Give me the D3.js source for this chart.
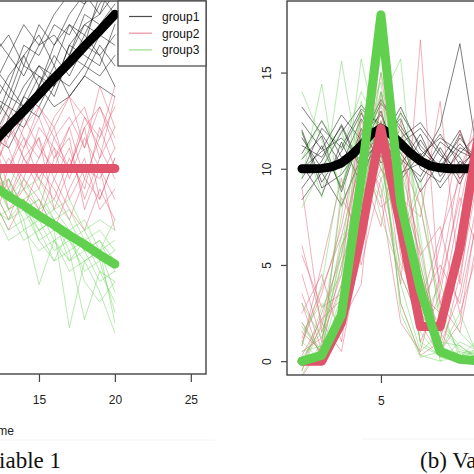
<!DOCTYPE html>
<html>
<head>
<meta charset="utf-8">
<script src="https://cdn.jsdelivr.net/npm/d3@7/dist/d3.min.js"></script>
<style>
  body { margin: 0; background: #fff; }
  svg { display: block; }
</style>
</head>
<body>
<svg id="chart"></svg>
<script>
var groups = ["group1", "group2", "group3"];
var groupColors = ["#000000", "#DF536B", "#61D04F"];
var thinAlpha = [0.5, 0.45, 0.45];

/* panel (a): only the right end of the time range is in view */
var timeA = [11, 12, 13, 14, 15, 16, 17, 18, 19, 20];
var meanA1 = [21.0, 22.5, 24.1, 25.6, 27.2, 28.8, 30.3, 31.9, 33.4, 35.0];
var meanA2 = [20, 20, 20, 20, 20, 20, 20, 20, 20, 20];
var meanA3 = [19.2, 18.3, 17.3, 16.4, 15.4, 14.5, 13.5, 12.6, 11.6, 10.7];

var linesA1 = [
  [24, 26, 29, 31, 28, 32, 34, 33, 36, 38],
  [22, 25, 23, 27, 30, 29, 31, 34, 35, 37],
  [26, 28, 31, 29, 32, 33, 31, 35, 34, 36],
  [21, 23, 26, 25, 28, 31, 29, 32, 31, 33],
  [25, 27, 26, 30, 29, 27, 31, 30, 33, 32],
  [23, 22, 24, 27, 26, 29, 28, 30, 29, 31],
  [27, 30, 28, 32, 31, 34, 33, 36, 38, 37],
  [20, 24, 27, 26, 29, 28, 32, 31, 30, 34],
  [28, 31, 33, 30, 34, 32, 35, 37, 35, 39],
  [22, 21, 25, 24, 27, 30, 27, 29, 32, 30],
  [24, 29, 27, 31, 33, 30, 34, 32, 37, 35],
  [26, 24, 28, 26, 25, 28, 30, 33, 31, 28],
  [30, 33, 31, 34, 32, 35, 37, 36, 39, 38],
  [21, 23, 22, 25, 28, 26, 27, 29, 28, 27],
  [24, 27, 25, 28, 30, 28, 32, 34, 33, 35]
];
var linesA2 = [
  [20, 23, 18, 22, 25, 21, 24, 19, 23, 26],
  [17, 15, 19, 16, 20, 18, 15, 19, 17, 21],
  [22, 19, 24, 21, 18, 23, 20, 25, 22, 19],
  [19, 21, 17, 20, 23, 19, 22, 17, 21, 24],
  [24, 22, 26, 23, 21, 25, 27, 22, 26, 23],
  [16, 18, 15, 19, 17, 14, 18, 21, 16, 18],
  [21, 25, 22, 18, 21, 24, 19, 23, 20, 17],
  [18, 16, 20, 23, 19, 17, 21, 18, 24, 20],
  [23, 20, 23, 25, 22, 20, 24, 26, 21, 27],
  [15, 17, 14, 17, 15, 19, 16, 14, 18, 15],
  [20, 18, 21, 19, 24, 22, 17, 20, 19, 22],
  [25, 23, 20, 24, 26, 23, 25, 22, 28, 24],
  [19, 22, 16, 18, 16, 21, 23, 16, 20, 14],
  [22, 20, 25, 21, 23, 16, 20, 24, 17, 21],
  [23, 21, 24, 22, 26, 24, 27, 25, 23, 28],
  [18, 20, 17, 21, 19, 22, 20, 24, 26, 22]
];
var linesA3 = [
  [19, 17, 18, 15, 16, 13, 14, 12, 13, 11],
  [17, 19, 16, 17, 14, 15, 12, 13, 10, 9],
  [21, 18, 19, 16, 17, 15, 16, 13, 14, 12],
  [18, 16, 15, 17, 13, 14, 4.5, 11, 12, 8],
  [20, 21, 17, 18, 15, 16, 14, 15, 12, 13],
  [16, 17, 14, 15, 8.7, 13, 11, 12, 9, 10],
  [22, 19, 20, 18, 19, 16, 17, 14, 15, 14],
  [17, 15, 16, 13, 14, 11, 12, 5.3, 10, 7],
  [19, 20, 18, 16, 17, 14, 13, 14, 11, 12],
  [15, 16, 13, 14, 12, 13, 10, 11, 8, 4],
  [20, 18, 17, 19, 16, 17, 15, 12, 13, 10],
  [18, 17, 19, 14, 15, 12, 13, 10, 11, 6],
  [21, 20, 16, 17, 18, 15, 11, 13, 12, 15],
  [16, 18, 15, 16, 13, 11, 14, 9, 7, 9],
  [19, 17, 18, 16, 14, 15, 13, 11, 12, 5]
];

/* panel (b): only the left end of the time range is in view */
var timeB = [1, 2, 3, 4, 5, 6, 7, 8, 9, 10];
var timeBfine = [1, 1.5, 2, 2.5, 3, 3.5, 4, 4.5, 5, 5.5, 6, 6.5, 7, 7.5, 8, 8.5, 9, 9.5, 10];
var meanB1 = [10, 10, 10.02, 10.1, 10.3, 10.7, 11.2, 11.8, 12.1, 11.8, 11.3, 10.8, 10.4, 10.15, 10.05, 10, 10, 10, 10];
var meanB2 = [0, 0, 2.0, 6.6, 12.1, 7.0, 1.8, 1.8, 5.9, 12.0];
var meanB3 = [0, 0.3, 2.4, 9.5, 18.0, 8.2, 3.7, 0.5, 0.1, 0];

var linesB1 = [
  [12.4, 11.0, 12.8, 11.5, 13.6, 12.0, 10.5, 11.8, 10.2, 11.0],
  [8.4, 9.8, 8.1, 10.6, 11.2, 9.4, 10.8, 9.0, 10.4, 9.6],
  [13.2, 11.8, 10.2, 12.6, 11.0, 12.9, 11.2, 10.1, 11.6, 10.3],
  [10.2, 8.6, 11.4, 9.2, 12.4, 10.8, 9.3, 11.1, 9.5, 10.7],
  [9.5, 11.2, 9.0, 12.1, 10.3, 11.5, 8.8, 10.4, 12.0, 9.2],
  [11.6, 10.0, 11.9, 13.3, 12.1, 10.2, 11.8, 9.6, 10.8, 11.9],
  [10.8, 12.5, 10.6, 11.0, 13.0, 9.8, 10.3, 12.2, 16.5, 10.0],
  [9.0, 10.4, 12.3, 10.1, 11.7, 12.6, 10.0, 9.3, 11.1, 10.5],
  [12.0, 9.3, 10.9, 12.9, 10.6, 11.3, 12.1, 10.7, 9.9, 11.4],
  [10.5, 11.7, 8.8, 11.8, 12.8, 10.5, 9.6, 11.4, 10.6, 8.9],
  [11.2, 10.6, 12.2, 9.9, 11.4, 13.2, 11.0, 10.0, 11.3, 10.2],
  [9.8, 12.1, 11.1, 13.1, 12.3, 11.6, 12.4, 10.9, 9.2, 11.5],
  [11.9, 9.0, 9.7, 11.2, 13.4, 12.2, 10.7, 11.6, 10.9, 10.4],
  [10.0, 10.9, 11.6, 10.4, 12.0, 9.6, 11.5, 9.9, 11.8, 9.8]
];
var linesB2 = [
  [0.5, 1.2, 4.0, 9.5, 13.0, 8.0, 2.5, 1.0, 6.5, 11.0],
  [2.0, 0.3, 3.0, 7.0, 10.5, 11.5, 5.0, 0.8, 3.5, 9.0],
  [-0.5, 2.5, 5.5, 11.0, 9.0, 4.0, 16.7, 3.0, 1.5, 7.0],
  [4.5, 1.0, 1.5, 5.5, 12.5, 9.5, 3.5, 2.5, 8.0, 13.0],
  [1.0, 3.5, 7.0, 12.0, 8.5, 2.0, 0.5, 4.5, 10.0, 12.5],
  [3.0, 0.0, 2.0, 4.0, 14.0, 10.0, 6.0, 0.5, 2.0, 8.5],
  [0.0, 1.8, 6.0, 8.0, 11.5, 6.5, 1.0, 3.5, 9.0, 14.0],
  [5.5, 2.8, 3.5, 10.0, 7.0, 12.5, 4.5, 1.5, 5.0, 10.5],
  [-0.8, 0.8, 8.5, 6.5, 13.5, 5.5, 2.0, 6.0, 12.0, 9.5],
  [2.5, 4.5, 1.0, 7.5, 10.0, 8.5, 7.5, 13.5, 4.0, 11.5],
  [9.0, 1.5, 4.5, 13.0, 11.0, 3.0, 0.3, 1.0, 7.0, 13.5],
  [1.5, 0.5, 2.5, 9.0, 15.0, 7.5, 3.0, 5.0, 3.0, 8.0],
  [0.8, 5.0, 9.5, 5.0, 9.5, 10.5, 8.0, 3.0, 6.0, 12.0],
  [6.0, 2.0, 0.5, 6.0, 12.0, 4.5, 2.0, 0.2, 4.5, 10.0],
  [1.2, 3.8, 6.5, 10.5, 8.0, 9.0, 5.5, 7.0, 2.5, 6.0],
  [3.5, 0.6, 5.0, 8.5, 11.0, 6.0, 9.0, 4.0, 8.5, 5.5],
  [0.3, 2.2, 3.2, 12.5, 10.0, 8.0, 3.0, 6.5, 9.5, 11.0]
];
var linesB3 = [
  [0.2, 1.5, 5.0, 12.0, 14.5, 6.0, 1.0, 0.3, 0.5, 0.2],
  [14.0, 11.5, 9.0, 13.0, 10.5, 4.0, 0.5, 1.5, 0.0, 0.8],
  [1.0, 0.0, 3.5, 8.0, 13.5, 15.7, 5.5, 0.8, 0.2, 0.0],
  [-0.5, 2.0, 7.5, 15.7, 11.0, 3.0, 0.3, 0.0, 1.0, 0.5],
  [9.5, 14.4, 8.0, 10.5, 12.5, 9.0, 2.5, 0.5, 0.3, 0.0],
  [0.5, 0.8, 1.5, 6.0, 11.0, 12.0, 8.0, 2.5, 0.4, 0.6],
  [12.0, 8.5, 15.6, 9.5, 14.0, 7.0, 1.5, 0.2, 0.0, 0.3],
  [2.0, 0.5, 4.0, 11.0, 9.5, 5.0, 3.5, 1.0, 0.8, 0.0],
  [-0.7, 1.0, 6.5, 7.5, 15.0, 10.5, 0.8, 0.3, 0.2, 1.2],
  [10.5, 12.5, 11.0, 14.0, 12.0, 2.5, 0.2, 0.5, 2.5, 0.0],
  [1.5, 3.0, 2.0, 10.0, 8.5, 13.0, 6.5, 0.0, 0.3, 0.5],
  [0.0, 0.2, 9.0, 12.5, 13.0, 8.0, 2.0, 3.0, 0.1, 0.0],
  [8.0, 10.0, 12.0, 8.5, 16.0, 11.0, 4.5, 0.4, 0.0, 0.2],
  [3.0, 1.2, 5.5, 13.5, 10.0, 6.5, 9.5, 1.8, 0.6, 0.3],
  [0.8, 4.0, 10.0, 11.5, 7.5, 4.5, 2.0, 4.0, 1.5, 0.4],
  [1.8, 0.4, 6.0, 9.0, 12.0, 7.5, 5.0, 0.6, 0.2, 0.0],
  [-0.3, 2.8, 4.5, 10.5, 14.0, 9.0, 3.0, 2.0, 0.8, 0.1]
];

var ticksAx = [15, 20, 25];
var ticksBx = [5];
var ticksBy = [0, 5, 10, 15];

var W = 474, H = 474;
var svg = d3.select('#chart')
    .attr('width', W)
    .attr('height', H);

var xA = d3.scaleLinear().domain([-1, 26]).range([-204, 206]);
var yA = d3.scaleLinear().domain([0, 36.3]).range([374, 1]);
var xB = d3.scaleLinear().domain([0.24, 20.76]).range([287, 692]);
var yB = d3.scaleLinear().domain([-0.72, 18.72]).range([375, 1]);

var defs = svg.append('defs');
defs.append('clipPath').attr('id', 'clipA')
    .append('rect').attr('x', -210).attr('y', 1).attr('width', 416).attr('height', 373);
defs.append('clipPath').attr('id', 'clipB')
    .append('rect').attr('x', 287).attr('y', 1).attr('width', 405).attr('height', 374);

function drawLines(g, xs, ys, times, rows, color, alpha, width) {
    var line = d3.line()
        .x(function(d, i) { return xs(times[i]); })
        .y(function(d) { return ys(d); });
    g.selectAll(null)
        .data(rows)
        .enter().append('path')
        .attr('d', line)
        .attr('fill', 'none')
        .attr('stroke', color)
        .attr('stroke-opacity', alpha)
        .attr('stroke-width', width)
        .attr('stroke-linejoin', 'round')
        .attr('stroke-linecap', 'round');
}

/* panel (a) */
var gA = svg.append('g').attr('clip-path', 'url(#clipA)');
drawLines(gA, xA, yA, timeA, linesA1, groupColors[0], thinAlpha[0], 1);
drawLines(gA, xA, yA, timeA, linesA2, groupColors[1], thinAlpha[1], 1);
drawLines(gA, xA, yA, timeA, linesA3, groupColors[2], thinAlpha[2], 1);
drawLines(gA, xA, yA, timeA, [meanA1], groupColors[0], 1, 9);
drawLines(gA, xA, yA, timeA, [meanA2], groupColors[1], 1, 9);
drawLines(gA, xA, yA, timeA, [meanA3], groupColors[2], 1, 9);

/* panel (b) */
var gB = svg.append('g').attr('clip-path', 'url(#clipB)');
drawLines(gB, xB, yB, timeB, linesB1, groupColors[0], thinAlpha[0], 1);
drawLines(gB, xB, yB, timeB, linesB2, groupColors[1], thinAlpha[1], 1);
drawLines(gB, xB, yB, timeB, linesB3, groupColors[2], thinAlpha[2], 1);
drawLines(gB, xB, yB, timeBfine, [meanB1], groupColors[0], 1, 9);
drawLines(gB, xB, yB, timeB, [meanB2], groupColors[1], 1, 9);
drawLines(gB, xB, yB, timeB, [meanB3], groupColors[2], 1, 9);

/* boxes */
svg.append('rect')
    .attr('x', xA.range()[0]).attr('y', 1)
    .attr('width', xA.range()[1] - xA.range()[0]).attr('height', 373)
    .attr('fill', 'none').attr('stroke', '#444').attr('stroke-width', 1.4);
svg.append('rect')
    .attr('x', 287).attr('y', 1)
    .attr('width', 405).attr('height', 374)
    .attr('fill', 'none').attr('stroke', '#444').attr('stroke-width', 1.4);

/* axes */
var axisA = d3.axisBottom(xA).tickValues(ticksAx).tickFormat(d3.format('d'))
    .tickSize(8).tickPadding(13);
var gAx = svg.append('g')
    .attr('transform', 'translate(0,374)')
    .call(axisA);

var axisBx = d3.axisBottom(xB).tickValues(ticksBx).tickFormat(d3.format('d'))
    .tickSize(8).tickPadding(13);
var gBx = svg.append('g')
    .attr('transform', 'translate(0,375)')
    .call(axisBx);

var axisBy = d3.axisLeft(yB).tickValues(ticksBy).tickFormat(d3.format('d'))
    .tickSize(6);
var gBy = svg.append('g')
    .attr('transform', 'translate(287,0)')
    .call(axisBy);
gBy.selectAll('.tick text')
    .attr('x', 0).attr('dy', 0)
    .attr('text-anchor', 'middle')
    .attr('transform', 'translate(-16.5,0) rotate(-90)');

[gAx, gBx, gBy].forEach(function(g) {
    g.select('.domain').remove();
    g.selectAll('.tick line').attr('stroke', '#444').attr('stroke-width', 1.2);
    g.selectAll('.tick text')
        .attr('fill', '#222')
        .style('font-family', '"Liberation Sans", Arial, sans-serif')
        .style('font-size', '12px');
});

svg.append('text')
    .attr('x', 2.5).attr('y', 435)
    .attr('text-anchor', 'middle')
    .attr('fill', '#222')
    .style('font-family', '"Liberation Sans", Arial, sans-serif')
    .style('font-size', '12px')
    .text('time');

/* legend */
var legend = svg.append('g');
legend.append('rect')
    .attr('x', 118).attr('y', 1).attr('width', 88).attr('height', 65)
    .attr('fill', '#fff').attr('stroke', '#444').attr('stroke-width', 1.2);
groups.forEach(function(name, i) {
    var yy = 16.5 + i * 16.7;
    legend.append('line')
        .attr('x1', 129).attr('x2', 152).attr('y1', yy).attr('y2', yy)
        .attr('stroke', groupColors[i]).attr('stroke-opacity', thinAlpha[i] + 0.2)
        .attr('stroke-width', 1.2);
    legend.append('text')
        .attr('x', 162).attr('y', yy + 4.3)
        .attr('fill', '#111')
        .style('font-family', '"Liberation Sans", Arial, sans-serif')
        .style('font-size', '12px')
        .text(name);
});

/* faint subfigure rules and captions */
svg.append('line').attr('x1', 0).attr('x2', 215).attr('y1', 440).attr('y2', 440)
    .attr('stroke', '#f2f2f2').attr('stroke-width', 1);
svg.append('line').attr('x1', 362).attr('x2', 474).attr('y1', 439).attr('y2', 439)
    .attr('stroke', '#f2f2f2').attr('stroke-width', 1);

svg.append('text')
    .attr('x', 61).attr('y', 468)
    .attr('text-anchor', 'end')
    .attr('fill', '#111')
    .style('font-family', '"Liberation Serif", "Times New Roman", serif')
    .style('font-size', '23px')
    .text('(a) Variable 1');
svg.append('text')
    .attr('x', 420).attr('y', 468)
    .attr('fill', '#111')
    .style('font-family', '"Liberation Serif", "Times New Roman", serif')
    .style('font-size', '23px')
    .text('(b) Variable 2');
</script>
</body>
</html>
